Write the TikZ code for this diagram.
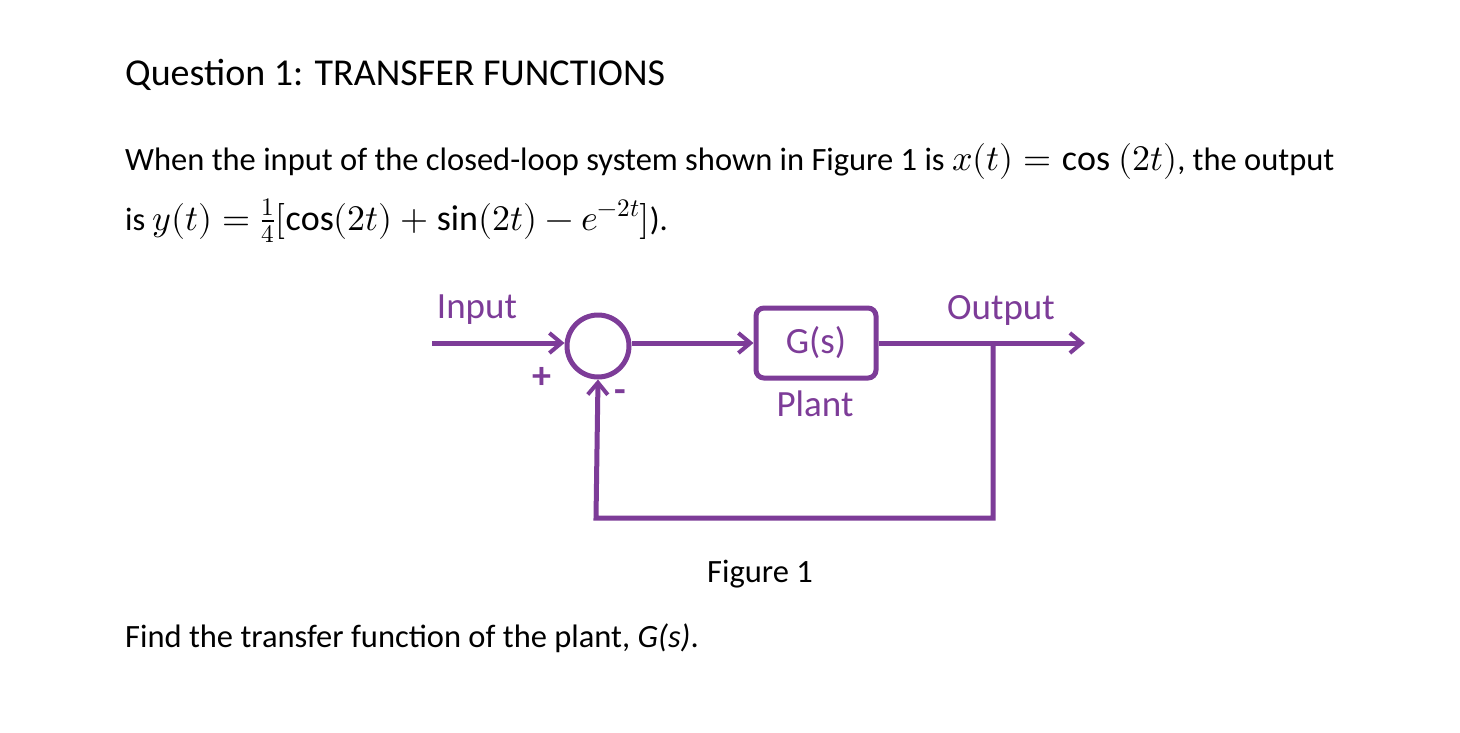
\documentclass[tikz,border=0pt]{standalone}
\usepackage{amsmath}
\usetikzlibrary{arrows.meta}
\usepackage{fontspec}
\usepackage{unicode-math}
\setmainfont{Carlito}
\setmathfont{Latin Modern Math}
\definecolor{pur}{HTML}{7D3C98}
\begin{document}
\begin{tikzpicture}[x=1pt,y=-1pt,
  txt/.style={inner sep=0pt,anchor=base west},
  lbl/.style={text=pur,font=\fontsize{37}{40}\selectfont,inner sep=0pt},
  ln/.style={draw=pur,line width=5pt},
  arr/.style={ln,-{Straight Barb[length=12pt,width=20pt,line width=4pt]}}]
\useasboundingbox[fill=white] (0,0) rectangle (1460,732);
\node[txt,font=\fontsize{38}{42}\selectfont] (title) at (125,85) {Question 1: TRANSFER FUNCTIONS};
\node[txt,font=\fontsize{32.5}{36}\selectfont] (l1) at (125,170) {When the input of the closed-loop system shown in Figure 1 is {\fontsize{36}{40}\selectfont$x(t)=\cos\ (2t)$}, the output};
\node[txt,font=\fontsize{32.5}{36}\selectfont] (l2) at (125,230) {is {\fontsize{36}{40}\selectfont$y(t)=\frac{1}{4}[\cos(2t)+\sin(2t)-e^{-2t}]$}).};
\node[circle,draw=pur,line width=5pt,minimum size=62pt,inner sep=0pt] (sum) at (598,346) {};
\node[draw=pur,line width=5pt,rounded corners=8pt,minimum width=120pt,minimum height=70pt,lbl] (G) at (816,343) {G(s)};
\node[lbl] (plant) at (815,404) {Plant};
\node[lbl] (in) at (477,310) {Input};
\node[lbl] (out) at (1001,310) {Output};
\node[lbl,font=\bfseries\fontsize{38}{40}\selectfont] (plus) at (542,378) {+};
\node[lbl,font=\bfseries\fontsize{38}{40}\selectfont] (minus) at (620,396) {-};
\coordinate (s) at (432,343);
\coordinate (e) at (1085,343);
\coordinate (br) at (993,343);
\coordinate (c1) at (993,518);
\coordinate (c2) at (596,518);
\draw[arr] (s) -- (sum.west|-s);
\draw[arr] (sum.east|-s) -- (G.west|-s);
\draw[arr] (G.east|-s) -- (e);
\draw[arr] (br) -- (c1) -- (c2) -- (sum.south);
\node[txt,font=\fontsize{32.5}{36}\selectfont] (fig) at (707,582) {Figure 1};
\node[txt,font=\fontsize{32.5}{36}\selectfont] (q) at (125,647) {Find the transfer function of the plant, \textit{G(s)}.};
\end{tikzpicture}
\end{document}
